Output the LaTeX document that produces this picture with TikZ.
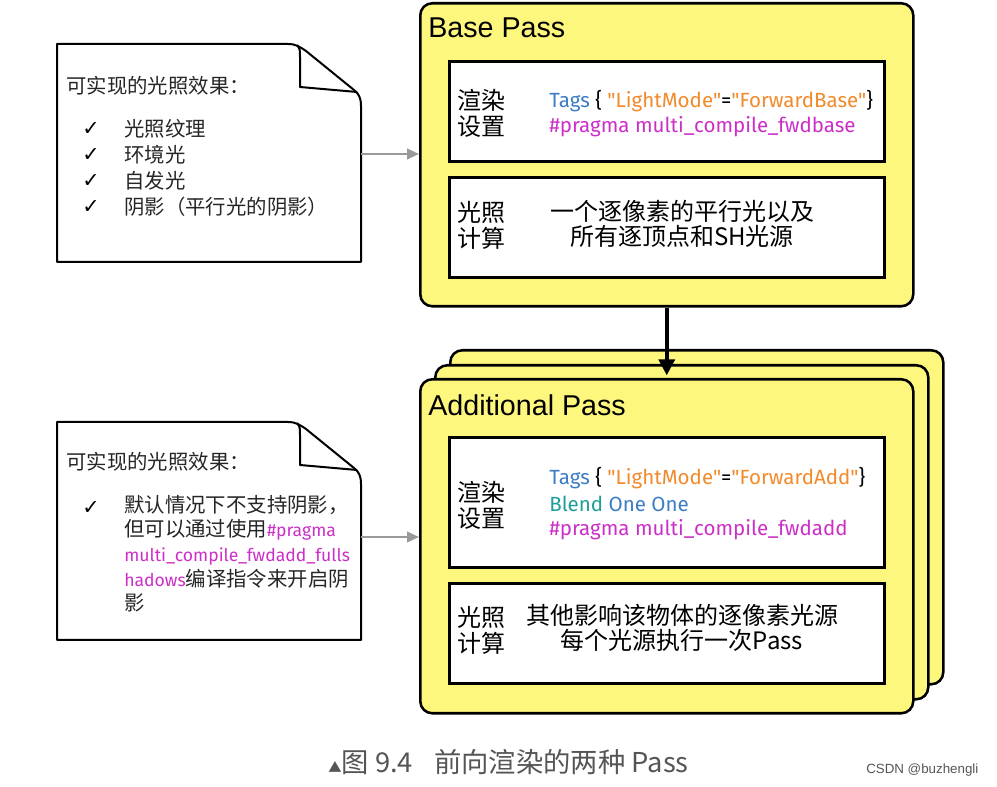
\documentclass[tikz,border=0pt]{standalone}
\usepackage{fontspec}
\setmainfont{Liberation Sans}
\newfontfamily\cjk{Noto Sans CJK SC}
\newfontfamily\codef{Fira Sans}
\newfontfamily\symf{DejaVu Sans}
\usetikzlibrary{arrows.meta}
\definecolor{yel}{HTML}{FEF77E}
\definecolor{tagblue}{HTML}{3C7DC4}
\definecolor{quor}{HTML}{F28A2A}
\definecolor{mag}{HTML}{CC2FC8}
\definecolor{teal2}{HTML}{1E9E9A}
\definecolor{arrgray}{HTML}{9A9A9A}
\definecolor{capgray}{HTML}{555555}
\begin{document}
\begin{tikzpicture}[x=0.75pt,y=-0.75pt,
  card/.style={draw=black, line width=1.9pt, fill=yel, rounded corners=9pt, rectangle, inner sep=0pt, anchor=north west, minimum width=493*0.75pt},
  innerbox/.style={draw=black, line width=2.1pt, fill=white, rectangle, inner sep=0pt, anchor=north west, minimum width=435*0.75pt},
  title/.style={font=\fontsize{21.5}{24}\selectfont, anchor=base west, inner sep=0pt},
  label/.style={font=\cjk\fontsize{18}{19.5}\selectfont, align=left, anchor=west, inner sep=0pt},
  body/.style={font=\cjk\fontsize{18}{18.5}\selectfont, align=center, inner sep=0pt},
  code/.style={font=\codef\fontsize{15.4}{19.5}\selectfont, anchor=west, inner sep=0pt},
  notetxt/.style={font=\cjk\fontsize{15.3}{18}\selectfont, anchor=west, inner sep=0pt, text=black!85},
  chk/.style={font=\symf\fontsize{15.5}{16}\selectfont, inner sep=0pt},
  notepath/.style={draw=black, line width=1.5pt, fill=white, line join=round},
  grayarrow/.style={draw=arrgray, line width=1.6pt, -{Triangle[length=9pt,width=8pt]}},
  blackarrow/.style={draw=black, line width=2.6pt, -{Triangle[length=12pt,width=12pt]}}
]
\useasboundingbox (0,0) rectangle (997,787);
\fill[white] (0,0) rectangle (997,787);

% ---------- Note 1 ----------
\path[notepath] (57,44) -- (288,44) .. controls (296,44) and (300,47) .. (306,51) -- (354,90) .. controls (359,94) and (361,98) .. (361,106) -- (361,262) -- (57,262) -- cycle;
\path[notepath, fill=none] (297,45) .. controls (300,49) .. (300,58) -- (300,87) -- (357,92);
\coordinate (n1e) at (361,154);
\node[notetxt] (n1t) at (66,86) {可实现的光照效果：};
\node[chk] (c1) at (91,129) {✓};
\node[chk] (c2) at (91,155) {✓};
\node[chk] (c3) at (91,181) {✓};
\node[chk] (c4) at (91,207) {✓};
\node[notetxt] (i1) at (124,129) {光照纹理};
\node[notetxt] (i2) at (124,155) {环境光};
\node[notetxt] (i3) at (124,181) {自发光};
\node[notetxt] (i4) at (124,207) {阴影（平行光的阴影）};

% ---------- Note 2 ----------
\path[notepath] (57,422) -- (288,422) .. controls (296,422) and (300,425) .. (306,429) -- (354,468) .. controls (359,472) and (361,476) .. (361,484) -- (361,640) -- (57,640) -- cycle;
\path[notepath, fill=none] (297,423) .. controls (300,427) .. (300,436) -- (300,465) -- (357,470);
\coordinate (n2e) at (361,537);
\node[notetxt] (n2t) at (66,462) {可实现的光照效果：};
\node[chk] (c5) at (91,508) {✓};
\node[notetxt, anchor=north west, align=left, font=\cjk\fontsize{15.3}{18.4}\selectfont] (n2b) at (124,495) {默认情况下不支持阴影，\\
但可以通过使用{\codef\fontsize{13.2}{18.4}\selectfont\color{mag}\#pragma}\\
{\codef\fontsize{13.2}{18.4}\selectfont\color{mag}multi\_compile\_fwdadd\_fulls}\\
{\codef\fontsize{13.2}{18.4}\selectfont\color{mag}hadows}编译指令来开启阴\\
影};

% ---------- Base Pass ----------
\node[card, minimum height=303*0.75pt] (base) at (419,2) {};
\node[title] (bt) at (428,38) {Base Pass};
\node[innerbox, minimum height=100*0.75pt] (b1) at (448,60) {};
\node[innerbox, minimum height=100*0.75pt] (b2) at (448,176) {};
\node[label] (b1l) at (457,113) {渲染\\设置};
\node[code] (b1c1) at (549,101) {\color{tagblue}Tags \color{black}\{ \color{quor}"LightMode"\color{black}=\color{quor}"ForwardBase"\color{black}\}};
\node[code] (b1c2) at (549,127) {\color{mag}\#pragma multi\_compile\_fwdbase};
\node[label] (b2l) at (457,225) {光照\\计算};
\node[body] (b2t) at (682,224) {一个逐像素的平行光以及\\所有逐顶点和SH光源};

% ---------- Additional Pass ----------
\node[card, minimum height=334*0.75pt] (back) at (449,349) {};
\node[card, minimum height=334*0.75pt] (mid) at (434,364) {};
\node[card, minimum height=334*0.75pt] (front) at (419,378) {};
\node[title] (at) at (428,416) {Additional Pass};
\node[innerbox, minimum height=130*0.75pt] (a1) at (448,436) {};
\node[innerbox, minimum height=100*0.75pt] (a2) at (448,582) {};
\node[label] (a1l) at (457,505) {渲染\\设置};
\node[code] (a1c1) at (549,478) {\color{tagblue}Tags \color{black}\{ \color{quor}"LightMode"\color{black}=\color{quor}"ForwardAdd"\color{black}\}};
\node[code] (a1c2) at (549,504) {\color{teal2}Blend \color{tagblue}One One};
\node[code] (a1c3) at (549,530) {\color{mag}\#pragma multi\_compile\_fwdadd};
\node[label] (a2l) at (457,630) {光照\\计算};
\node[body] (a2t) at (682,628) {其他影响该物体的逐像素光源\\每个光源执行一次Pass};

% ---------- connectors ----------
\draw[grayarrow] (n1e) -- (n1e -| base.west);
\draw[grayarrow] (n2e) -- (n2e -| front.west);
\draw[blackarrow] (base.south) -- ([yshift=2pt]front.north);

% ---------- caption ----------
\node[anchor=west, inner sep=0pt, text=capgray, font=\cjk\fontsize{20.5}{22}\selectfont] (cap) at (328,762) {{\fontsize{10}{10}\selectfont ▲}图 9.4\hspace{16pt}前向渲染的两种 Pass};
\node[anchor=west, inner sep=0pt, text=capgray, font=\fontsize{10}{12}\selectfont] (csdn) at (866,770) {CSDN @buzhengli};
\end{tikzpicture}
\end{document}
